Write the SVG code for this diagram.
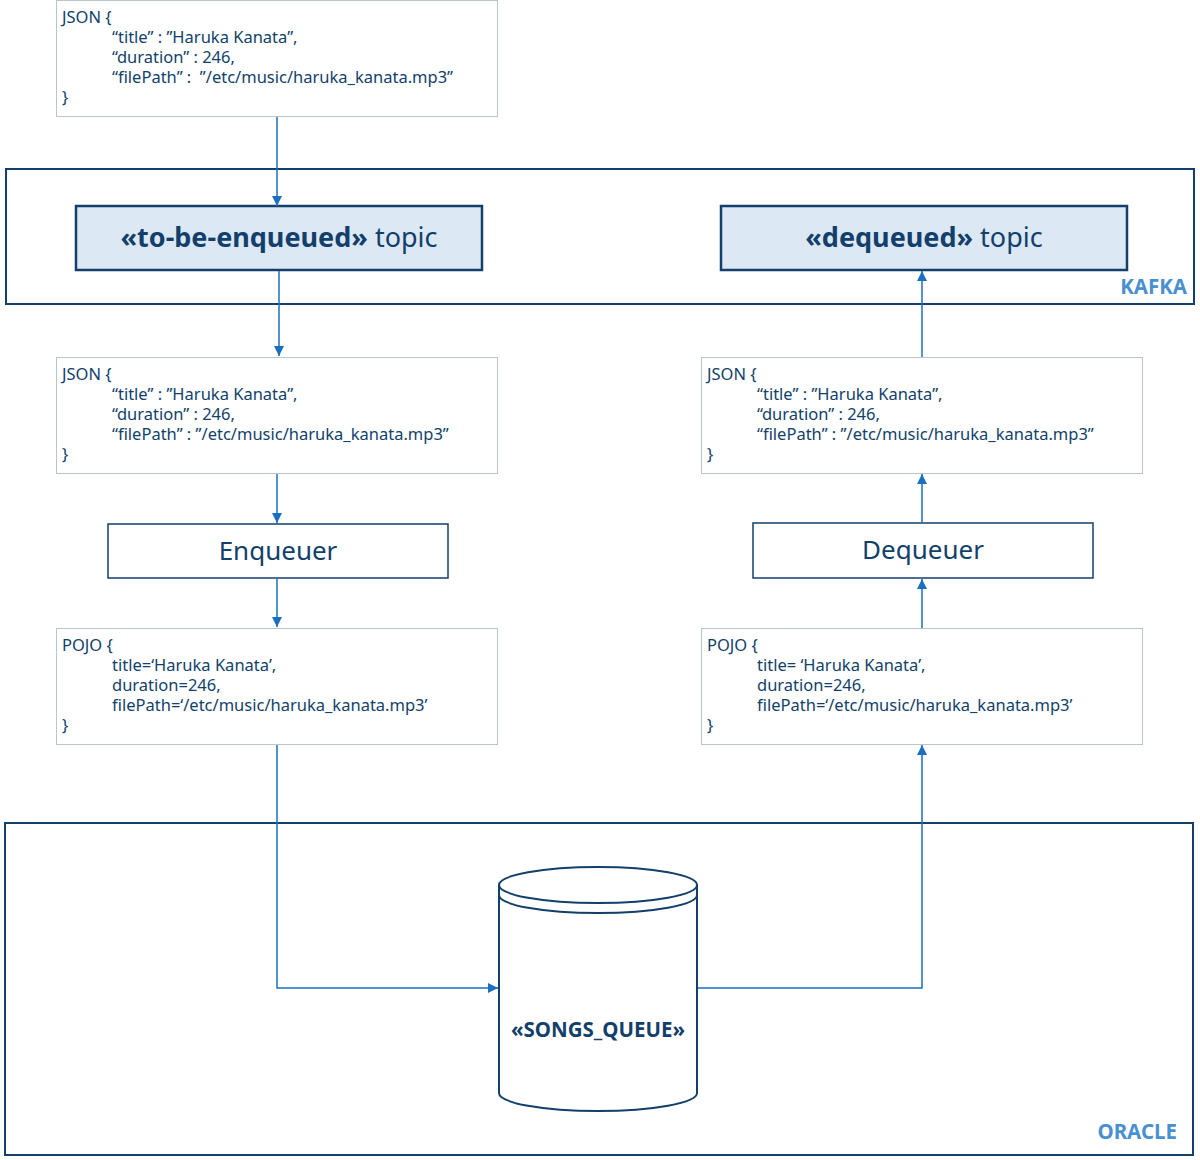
<svg xmlns="http://www.w3.org/2000/svg" width="1200" height="1160" viewBox="0 0 1200 1160">
<style>
text{font-family:"Noto Sans","Open Sans","DejaVu Sans",sans-serif;fill:#123f6b}
.code{font-size:16.5px}
.box{fill:#fff;stroke:#b8c4d0;stroke-width:1}
.frame{fill:none;stroke:#123f6b;stroke-width:2}
.topic{fill:#dde8f5;stroke:#123f6b;stroke-width:2.5}
.proc{fill:#fff;stroke:#123f6b;stroke-width:1.5}
.lbl{font-size:20.5px;font-weight:bold;fill:#4a90d0}
.conn{fill:none;stroke:#1a6fc0;stroke-width:1.5;marker-end:url(#ah)}
</style>
<defs><marker id="ah" viewBox="0 0 10 10" refX="10" refY="5" markerWidth="10" markerHeight="10" markerUnits="userSpaceOnUse" orient="auto"><path d="M0,0L10,5L0,10z" fill="#1a6fc0"/></marker></defs>
<rect width="1200" height="1160" fill="#fff"/>
<g id="kafka"><rect class="frame" x="6" y="169" width="1188" height="135"/><text class="lbl" x="1187" y="294" text-anchor="end">KAFKA</text></g>
<g id="oracle"><rect class="frame" x="5" y="823" width="1188" height="332"/><text class="lbl" x="1177" y="1139" text-anchor="end">ORACLE</text></g>
<g id="json-in"><rect class="box" x="56.5" y="0.5" width="441" height="116"/>
<text class="code" x="62" y="23">JSON {</text><text class="code" x="112" y="43">“title” : ”Haruka Kanata”,</text><text class="code" x="112" y="63">“duration” :  246,</text><text class="code" x="112" y="83" xml:space="preserve">“filePath” :  ”/etc/music/haruka_kanata.mp3”</text><text class="code" x="62" y="103">}</text></g>
<g id="topic-in"><rect class="topic" x="76" y="206" width="406" height="64"/><text x="279" y="247" font-size="27" text-anchor="middle"><tspan font-weight="bold">«to-be-enqueued»</tspan> topic</text></g>
<g id="topic-out"><rect class="topic" x="721" y="206" width="406" height="64"/><text x="924" y="247" font-size="27" text-anchor="middle"><tspan font-weight="bold">«dequeued»</tspan> topic</text></g>
<g id="json-left"><rect class="box" x="56.5" y="357.5" width="441" height="116"/>
<text class="code" x="62" y="380">JSON {</text><text class="code" x="112" y="400">“title” : ”Haruka Kanata”,</text><text class="code" x="112" y="420">“duration” : 246,</text><text class="code" x="112" y="440">“filePath” : ”/etc/music/haruka_kanata.mp3”</text><text class="code" x="62" y="460">}</text></g>
<g id="json-right"><rect class="box" x="701.5" y="357.5" width="441" height="116"/>
<text class="code" x="707" y="380">JSON {</text><text class="code" x="757" y="400">“title” : ”Haruka Kanata”,</text><text class="code" x="757" y="420">“duration” : 246,</text><text class="code" x="757" y="440">“filePath” : ”/etc/music/haruka_kanata.mp3”</text><text class="code" x="707" y="460">}</text></g>
<g id="enqueuer"><rect class="proc" x="108" y="524" width="340" height="54"/><text x="278" y="560" font-size="26" text-anchor="middle">Enqueuer</text></g>
<g id="dequeuer"><rect class="proc" x="753" y="523" width="340" height="55"/><text x="923" y="559" font-size="26" text-anchor="middle">Dequeuer</text></g>
<g id="pojo-left"><rect class="box" x="56.5" y="628.5" width="441" height="116"/>
<text class="code" x="62" y="651">POJO {</text><text class="code" x="112" y="671">title=‘Haruka Kanata’,</text><text class="code" x="112" y="691">duration=246,</text><text class="code" x="112" y="711">filePath=‘/etc/music/haruka_kanata.mp3’</text><text class="code" x="62" y="731">}</text></g>
<g id="pojo-right"><rect class="box" x="701.5" y="628.5" width="441" height="116"/>
<text class="code" x="707" y="651">POJO {</text><text class="code" x="757" y="671">title= ‘Haruka Kanata’,</text><text class="code" x="757" y="691">duration=246,</text><text class="code" x="757" y="711">filePath=‘/etc/music/haruka_kanata.mp3’</text><text class="code" x="707" y="731">}</text></g>
<g id="songs-queue" fill="#fff" stroke="#123f6b" stroke-width="2">
<path d="M499,885 V1093 A99,18 0 0 0 697,1093 V885"/>
<ellipse cx="598" cy="885" rx="99" ry="18"/>
<path d="M499,895 A99,18 0 0 0 697,895" fill="none"/>
<text x="598" y="1037" font-size="20.5" font-weight="bold" text-anchor="middle" stroke="none">«SONGS_QUEUE»</text></g>
<g id="connectors">
<path class="conn" d="M277,117 V206"/>
<path class="conn" d="M279,271 V356"/>
<path class="conn" d="M277,474 V523"/>
<path class="conn" d="M277,579 V627"/>
<path class="conn" d="M277,745 V988 H498"/>
<path class="conn" d="M698,988 H922 V745"/>
<path class="conn" d="M922,628 V579"/>
<path class="conn" d="M922,523 V474"/>
<path class="conn" d="M922,357 V271"/>
</g>
</svg>
